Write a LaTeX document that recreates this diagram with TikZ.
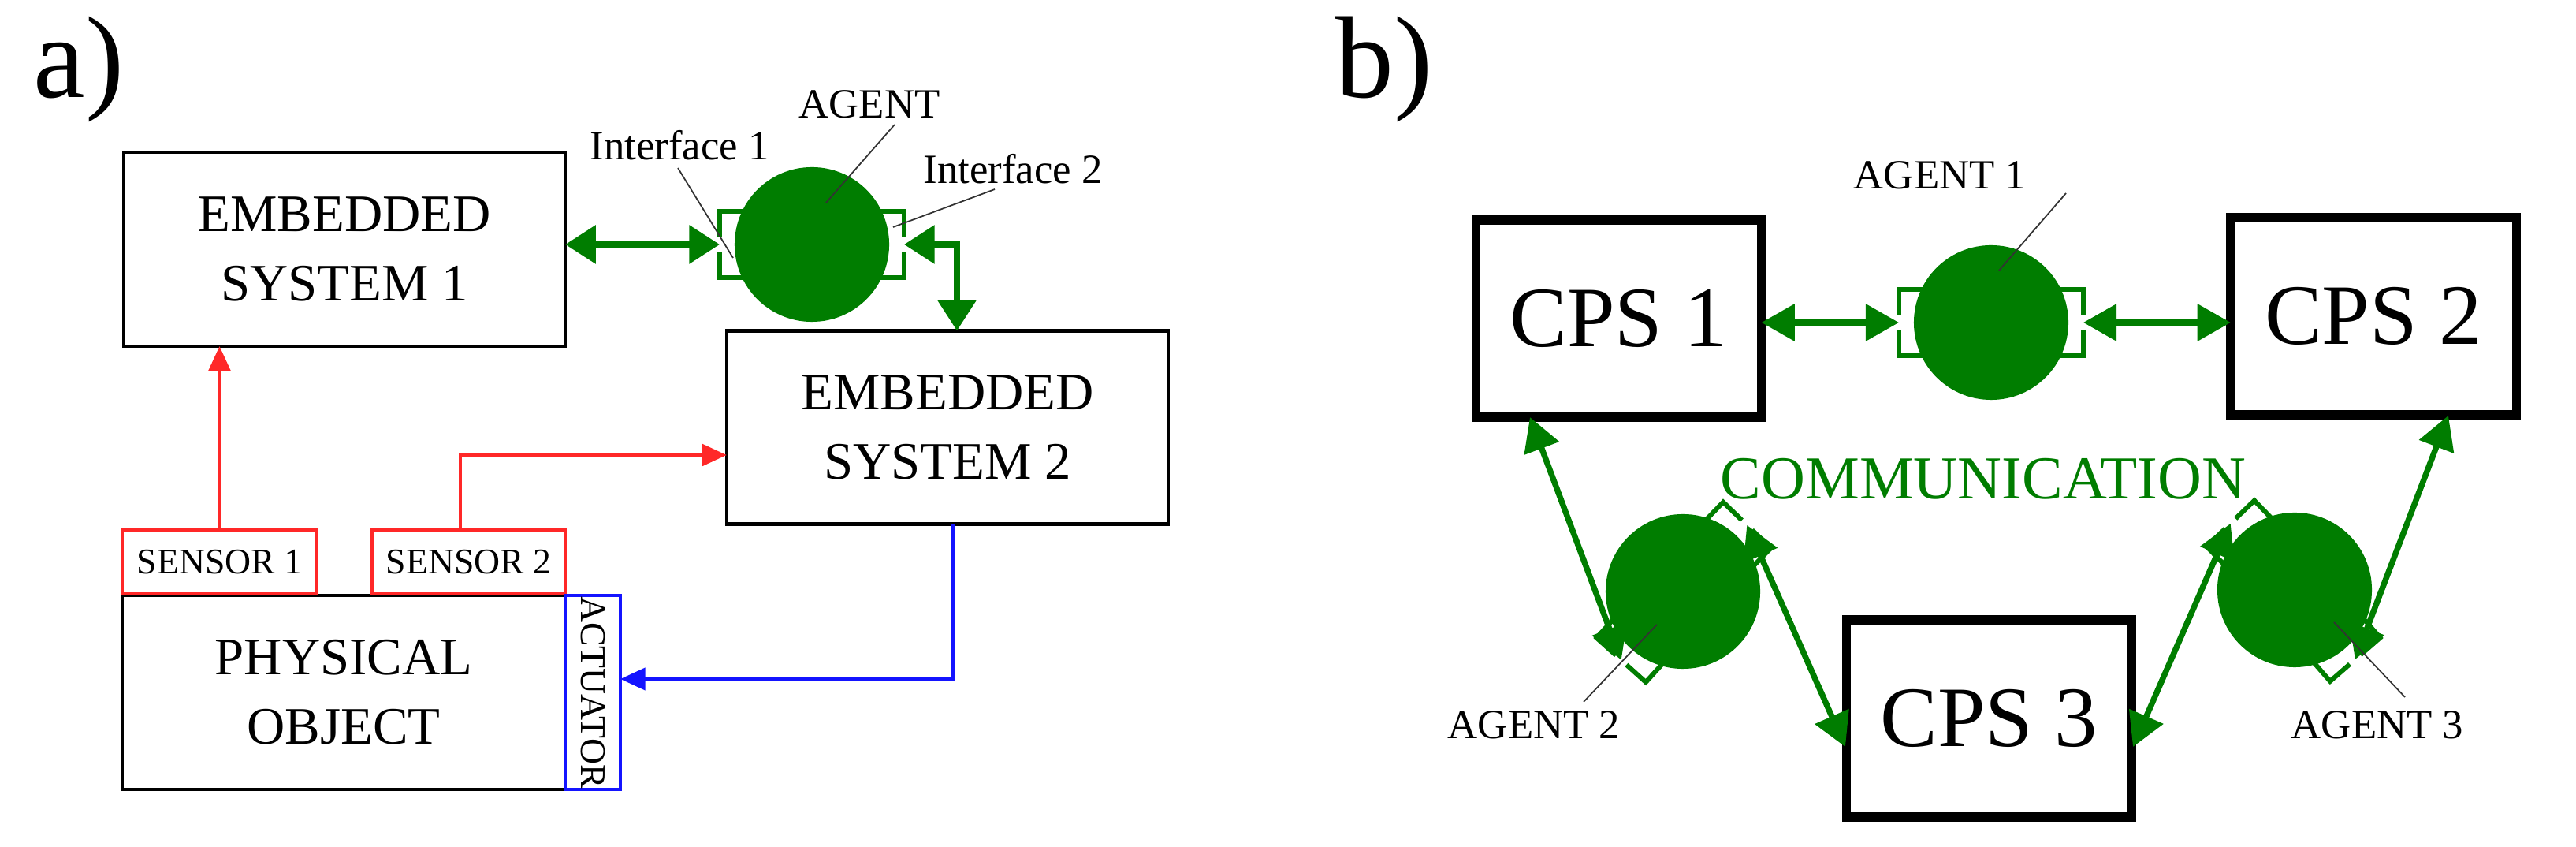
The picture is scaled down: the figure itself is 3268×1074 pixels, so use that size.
\documentclass[tikz,border=0pt]{standalone}
\usepackage{fontspec}
\setmainfont{Liberation Serif}
\usetikzlibrary{arrows.meta}
\definecolor{ag}{RGB}{0,125,0}
\definecolor{sred}{RGB}{255,40,40}
\definecolor{ablue}{RGB}{20,20,255}
\begin{document}
\begin{tikzpicture}[x=0.01cm,y=-0.01cm,
  box/.style={draw=black,line width=1.2pt,inner sep=0pt,outer sep=0pt,align=center,font=\fontsize{19}{25}\selectfont},
  cps/.style={draw=black,line width=3.2pt,inner sep=0pt,outer sep=0pt,minimum width=3.62cm,minimum height=2.5cm,font=\fontsize{31}{36}\selectfont},
  small/.style={inner sep=0pt,outer sep=0pt,font=\fontsize{13}{15}\selectfont},
  lab/.style={inner sep=0pt,font=\fontsize{15}{18}\selectfont},
  agent/.style={circle,fill=ag,minimum size=1.96cm,inner sep=0pt,outer sep=0pt},
  garr/.style={draw=ag,line width=2.2pt,{Triangle[length=11pt,width=13.5pt]}-{Triangle[length=11pt,width=13.5pt]}},
  rarr/.style={draw=sred,line width=1.1pt,-{Triangle[length=9pt,width=8pt]}},
  barr/.style={draw=ablue,line width=1.1pt,-{Triangle[length=9pt,width=8pt]}},
  lead/.style={draw=black!80,line width=0.5pt}]
\useasboundingbox (0,0) rectangle (3268,1074);
\newcommand{\ifc}[3]{% center, angle, name
  \begin{scope}[shift={#1},rotate=#2]
   \draw[ag,line width=1.7pt] (85,-42)--(117,-42)--(117,-9) (117,9)--(117,42)--(85,42);
   \coordinate (#3) at (117,0);
  \end{scope}}
% ---------- a)
\node[inner sep=0pt,font=\fontsize{42}{48}\selectfont] (la) at (100,88) {a)};
\node[box,minimum width=5.6cm,minimum height=2.46cm] (es1) at (437,316) {EMBEDDED\\SYSTEM 1};
\node[box,minimum width=5.6cm,minimum height=2.45cm] (es2) at (1202,542) {EMBEDDED\\SYSTEM 2};
\node[box,minimum width=5.62cm,minimum height=2.46cm] (po) at (436,878) {PHYSICAL\\OBJECT};
\node[small,draw=sred,line width=1pt,minimum width=2.47cm,minimum height=0.81cm] (s1) at (278.5,712.5) {SENSOR 1};
\node[small,draw=sred,line width=1pt,minimum width=2.45cm,minimum height=0.81cm] (s2) at (594.5,712.5) {SENSOR 2};
\node[small,draw=ablue,line width=1pt,minimum width=0.70cm,minimum height=2.46cm] (act) at (752,878) {};
\node[small,rotate=-90] (acttxt) at (act.center) {ACTUATOR};
\ifc{(1030,310)}{180}{i1}
\ifc{(1030,310)}{0}{i2}
\node[agent] (ag0) at (1030,310) {};
\draw[garr] (es1.east |- i1) -- (i1);
\coordinate (bnd) at (1214,310);
\draw[garr,line join=miter] (i2) -- (bnd) -- (bnd |- es2.north);
\node[lab] (lagent) at (1103,132) {AGENT};
\node[lab] (lif1) at (862,184) {Interface 1};
\node[lab] (lif2) at (1285,214) {Interface 2};
\coordinate (q1) at (1135,158); \coordinate (q2) at (1048,257);
\coordinate (q3) at (860,213); \coordinate (q4) at (930,327);
\coordinate (q5) at (1262,240); \coordinate (q6) at (1133,288);
\draw[lead] (q1)--(q2) (q3)--(q4) (q5)--(q6);
\draw[rarr] (s1.north) -- (s1.north |- es1.south);
\coordinate (r1) at (584,672); \coordinate (r2) at (584,577);
\draw[rarr] (r1) -- (r2) -- (r2 -| es2.west);
\coordinate (b1) at (1209,665); \coordinate (b2) at (1209,861);
\draw[barr] (b1) -- (b2) -- (b2 -| act.east);
% ---------- b)
\node[inner sep=0pt,font=\fontsize{42}{48}\selectfont] (lb) at (1756,88) {b)};
\node[cps] (c1) at (2053.5,404) {CPS 1};
\node[cps] (c2) at (3011,401) {CPS 2};
\node[cps] (c3) at (2523.5,911) {CPS 3};
\ifc{(2526,409)}{180}{a1l}
\ifc{(2526,409)}{0}{a1r}
\node[agent] (ag1) at (2526,409) {};
\ifc{(2135,750)}{-132}{a2u}
\ifc{(2135,750)}{46}{a2d}
\node[agent] (ag2) at (2135,750) {};
\ifc{(2911,748)}{-49}{a3u}
\ifc{(2911,748)}{134}{a3d}
\node[agent] (ag3) at (2911,748) {};
\tikzset{garr2/.style={draw=ag,line width=2.1pt,{Triangle[length=12pt,width=13pt]}-{Triangle[length=12pt,width=13pt]}}}
\draw[garr2] (c1.east |- a1l) -- (a1l);
\draw[garr2] (a1r) -- (c2.west |- a1r);
\coordinate (e1) at (1941,529); \coordinate (e2) at (3106,527);
\coordinate (e3) at (2341,947); \coordinate (e4) at (2706,947);
\draw[garr2] (e1) -- (a2u);
\draw[garr2] (a2d) -- (e3);
\draw[garr2] (e2) -- (a3u);
\draw[garr2] (a3d) -- (e4);
\node[lab] (la1) at (2461,222) {AGENT 1};
\node[lab] (la2) at (1946,919) {AGENT 2};
\node[lab] (la3) at (3016,919) {AGENT 3};
\coordinate (p1) at (2621,245); \coordinate (p2) at (2536,343);
\coordinate (p3) at (2009,890); \coordinate (p4) at (2102,792);
\coordinate (p5) at (3051,884); \coordinate (p6) at (2961,789);
\draw[lead] (p1)--(p2) (p3)--(p4) (p5)--(p6);
\node[inner sep=0pt,text=ag,font=\fontsize{22}{26}\selectfont] (comm) at (2516,607) {COMMUNICATION};
\end{tikzpicture}
\end{document}
